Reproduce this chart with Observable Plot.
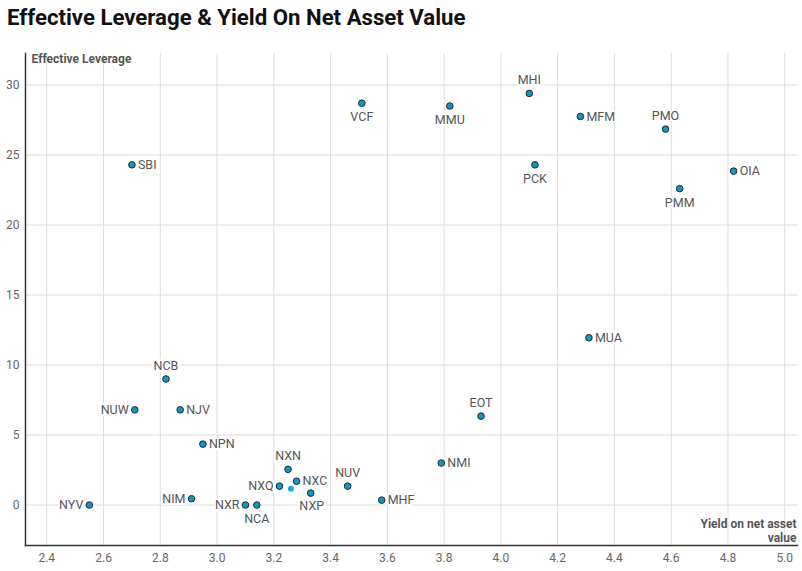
<!DOCTYPE html>
<html>
<head>
<meta charset="utf-8">
<script src="https://cdn.jsdelivr.net/npm/d3@7"></script>
<script src="https://cdn.jsdelivr.net/npm/@observablehq/plot@0.6"></script>
<style>
  body { margin: 0; background: #fff; font-family: Roboto, sans-serif; }
  #title { position: absolute; left: 7px; top: 4px; font: bold 22.2px Roboto, sans-serif; color: #111; }
  #chart { position: absolute; left: 0; top: 40px; }
</style>
</head>
<body>
<div id="title">Effective Leverage &amp; Yield On Net Asset Value</div>
<div id="chart"></div>
<script>
const tickers   = ["VCF","SBI","MMU","MHI","MFM","PMO","PCK","OIA","PMM","MUA","NCB","NUW","NJV","EOT","NPN","NMI","NXN","NXC","NXQ","NXP","NUV","MHF","NYV","NIM","NXR","NCA"];
const yields    = [3.51, 2.70, 3.82, 4.10, 4.28, 4.58, 4.12, 4.82, 4.63, 4.31, 2.82, 2.71, 2.87, 3.93, 2.95, 3.79, 3.25, 3.28, 3.22, 3.33, 3.46, 3.58, 2.55, 2.91, 3.10, 3.14];
const leverages = [28.7, 24.3, 28.5, 29.4, 27.75, 26.85, 24.3, 23.85, 22.6, 11.95, 9.0, 6.8, 6.8, 6.35, 4.35, 3.0, 2.55, 1.7, 1.35, 0.85, 1.35, 0.35, 0.0, 0.45, 0.0, 0.0];
const labelSide = ["below","right","below","above","right","above","below","right","below","right","above","left","right","above","right","right","above","right","left","belowright","above","right","left","left","left","below"];
// unlabeled highlighted point
const extraYield = [3.26];
const extraLeverage = [1.17];

const xTicks = [2.4,2.6,2.8,3.0,3.2,3.4,3.6,3.8,4.0,4.2,4.4,4.6,4.8,5.0];
const yTicks = [0,5,10,15,20,25,30];

const funds = tickers.map((t,i) => ({ticker: t, yield: yields[i], lev: leverages[i], side: labelSide[i]}));
const extra = extraYield.map((v,i) => ({yield: v, lev: extraLeverage[i]}));

const textStyle = {fill: "#555", stroke: "white", strokeWidth: 4, fontSize: 12.5, fontFamily: "Roboto, sans-serif"};
const bySide = s => funds.filter(d => d.side === s);

const chart = Plot.plot({
  width: 802,
  height: 531,
  marginLeft: 25,
  marginRight: 5,
  marginTop: 13,
  marginBottom: 26,
  style: {fontFamily: "Roboto, sans-serif", fontSize: "12px", color: "#666", background: "white"},
  x: {domain: [2.325, 5.045], ticks: xTicks, tickFormat: d3.format(".1f")},
  y: {domain: [-2.89, 32.25], ticks: yTicks},
  marks: [
    Plot.gridX(xTicks, {stroke: "#dcdcdc", strokeOpacity: 1}),
    Plot.gridY(yTicks, {stroke: "#dcdcdc", strokeOpacity: 1}),
    Plot.axisX(xTicks, {tickSize: 0, tickPadding: 8, fill: "#666", fontSize: 12, tickFormat: d3.format(".1f"), label: null}),
    Plot.axisY(yTicks, {tickSize: 0, tickPadding: 6, fill: "#666", fontSize: 12, label: null}),
    Plot.frame({anchor: "left", stroke: "#333", strokeWidth: 1.5}),
    Plot.frame({anchor: "bottom", stroke: "#333", strokeWidth: 1.5}),
    Plot.text(bySide("right"), {x: "yield", y: "lev", text: "ticker", textAnchor: "start", dx: 6, ...textStyle}),
    Plot.text(bySide("left"), {x: "yield", y: "lev", text: "ticker", textAnchor: "end", dx: -6, ...textStyle}),
    Plot.text(bySide("above"), {x: "yield", y: "lev", text: "ticker", dy: -13, ...textStyle}),
    Plot.text(bySide("below"), {x: "yield", y: "lev", text: "ticker", dy: 14, ...textStyle}),
    Plot.text(bySide("belowright"), {x: "yield", y: "lev", text: "ticker", dy: 13, dx: 1, ...textStyle}),
    Plot.dot(funds, {x: "yield", y: "lev", r: 3.3, fill: "#1697c0", stroke: "#1a2a33", strokeWidth: 1}),
    Plot.dot(extra, {x: "yield", y: "lev", r: 3, fill: "#22a8de"}),
    Plot.text(["Effective Leverage"], {frameAnchor: "top-left", dx: 6, dy: 1, fontWeight: "bold", fill: "#555", fontSize: 12, textAnchor: "start"}),
    Plot.text(["Yield on net asset\nvalue"], {frameAnchor: "bottom-right", dx: -1, dy: -4, fontWeight: "bold", fill: "#555", fontSize: 12, textAnchor: "end", lineHeight: 1.15})
  ]
});
document.getElementById("chart").appendChild(chart);
</script>
</body>
</html>
